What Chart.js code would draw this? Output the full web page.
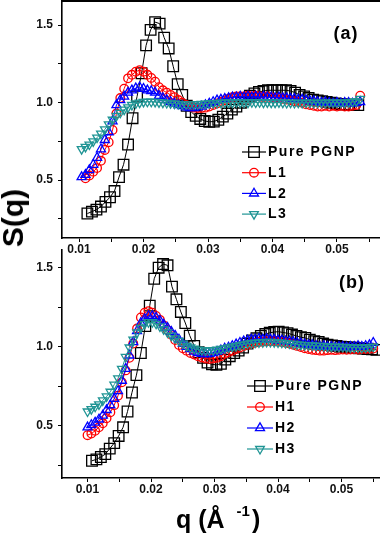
<!DOCTYPE html>
<html><head><meta charset="utf-8">
<script src="https://cdn.jsdelivr.net/npm/chart.js@4.4.0/dist/chart.umd.min.js"></script>
<style>
html,body{margin:0;padding:0;background:#fff;}
#wrap{position:relative;width:380px;height:533px;overflow:hidden;font-family:"Liberation Sans",Arial,sans-serif;color:#000;}
canvas{position:absolute;left:0;}
#cA{top:0;width:380px;height:262px;}
#cB{top:246px;width:380px;height:262px;}
#ytitle{position:absolute;left:13px;top:218px;transform:translate(-50%,-50%) rotate(-90deg);font-weight:bold;font-size:30px;white-space:nowrap;line-height:1;}
#xtitle{position:absolute;left:176px;top:507px;font-weight:bold;font-size:25px;white-space:nowrap;line-height:1;}
#xtitle .sup{font-size:15px;position:relative;top:-12px;margin-left:12px;margin-right:2px;}
.plab{position:absolute;font-weight:bold;font-size:18px;line-height:1;transform:translate(-50%,-50%);letter-spacing:1px;}
</style></head><body>
<div id="wrap">
<canvas id="cA" width="380" height="262"></canvas>
<canvas id="cB" width="380" height="262"></canvas>
<div id="ytitle">S(q)</div>
<div id="xtitle">q (Å<span class="sup">-1</span>)</div>
<div class="plab" style="left:346px;top:33px;">(a)</div>
<div class="plab" style="left:352px;top:282px;">(b)</div>
</div>
<script>
// ---------- DATA ----------
const xTickVals = [0.01,0.015,0.02,0.025,0.03,0.035,0.04,0.045,0.05,0.055];
const xTickLabels = ['0.01','','0.02','','0.03','','0.04','','0.05',''];
const yTickVals = [0.25,0.5,0.75,1.0,1.25,1.5];
const yTickLabels = ['','0.5','','1.0','','1.5'];

const seriesNamesA = ['Pure PGNP','L1','L2','L3'];
const seriesNamesB = ['Pure PGNP','H1','H2','H3'];

// panel (a)
const qPureA = [0.0113,0.0120,0.0127,0.0134,0.0141,0.0148,0.0155,0.0162,0.0169,0.0176,
0.0183,0.0190,0.0197,0.0204,0.0211,0.0218,0.0225,0.0232,0.0239,0.0246,
0.0253,0.0260,0.0267,0.0274,0.0281,0.0288,0.0295,0.0302,0.0309,0.0316,
0.0323,0.0330,0.0337,0.0344,0.0351,0.0358,0.0365,0.0372,0.0379,0.0386,
0.0393,0.0400,0.0407,0.0414,0.0421,0.0428,0.0435,0.0442,0.0449,0.0456,
0.0463,0.0470,0.0477,0.0484,0.0491,0.0498,0.0505,0.0512,0.0519,0.0526,
0.0533];
const sPureA = [0.285,0.297,0.310,0.330,0.360,0.390,0.430,0.520,0.600,0.730,
0.900,1.040,1.190,1.370,1.470,1.520,1.510,1.420,1.350,1.235,
1.120,1.050,0.980,0.940,0.915,0.895,0.882,0.877,0.878,0.890,
0.910,0.930,0.955,0.975,1.000,1.025,1.045,1.060,1.070,1.075,
1.080,1.080,1.080,1.080,1.080,1.075,1.065,1.050,1.040,1.030,
1.020,1.015,1.010,1.005,1.000,0.995,0.990,0.990,0.985,0.985,
0.985];
const qA = [0.0104,0.0110,0.0116,0.0122,0.0128,0.0134,0.0140,0.0146,0.0152,0.0158,
0.0164,0.0170,0.0176,0.0182,0.0188,0.0194,0.0200,0.0206,0.0212,0.0218,
0.0224,0.0230,0.0236,0.0242,0.0248,0.0254,0.0260,0.0266,0.0272,0.0278,
0.0284,0.0290,0.0296,0.0302,0.0308,0.0314,0.0320,0.0326,0.0332,0.0338,
0.0344,0.0350,0.0356,0.0362,0.0368,0.0374,0.0380,0.0386,0.0392,0.0398,
0.0404,0.0410,0.0416,0.0422,0.0428,0.0434,0.0440,0.0446,0.0452,0.0458,
0.0464,0.0470,0.0476,0.0482,0.0488,0.0494,0.0500,0.0506,0.0512,0.0518,
0.0524,0.0530,0.0536];
const sL1 = [null,0.512,0.530,0.555,0.578,0.625,0.695,0.745,0.824,0.930,
1.030,1.090,1.157,1.180,1.200,1.210,1.200,1.180,1.160,1.135,
1.100,1.080,1.065,1.050,1.035,1.017,1.000,0.985,0.975,0.968,
0.965,0.965,0.968,0.975,0.985,0.995,1.005,1.015,1.025,1.035,
1.040,1.040,1.040,1.045,1.040,1.045,1.040,1.035,1.040,1.035,
1.030,1.030,1.025,1.020,1.015,1.010,1.005,1.000,0.990,0.985,
0.980,0.975,0.975,0.980,0.975,0.980,0.975,0.980,0.975,0.975,
0.980,0.985,1.045];
const sL2 = [0.520,0.535,0.565,0.600,0.645,0.700,0.760,0.810,0.880,0.985,
1.017,1.040,1.065,1.080,1.093,1.100,1.090,1.080,1.075,1.065,
1.045,1.030,1.017,1.005,0.995,0.985,0.978,0.970,0.965,0.965,
0.970,0.975,0.985,0.995,1.005,1.015,1.020,1.025,
1.030,1.035,1.035,1.040,1.035,1.040,1.035,1.040,1.035,1.040,1.035,1.035,1.030,1.035,1.030,1.030,1.025,1.025,1.020,
1.020,
1.015,1.010,1.010,1.005,1.000,1.005,1.000,0.995,1.000,0.995,1.000,1.000,0.995,1.000,1.005];
const sL3 = [0.700,0.715,0.730,0.750,0.775,0.800,0.828,0.860,0.890,0.915,
0.935,0.955,0.970,0.985,0.995,1.000,1.005,1.006,1.006,1.005,
1.002,1.000,0.998,0.996,0.994,0.992,
0.990,0.990,0.990,0.990,0.990,0.992,0.993,0.995,0.997,0.998,
1.000,1.000,1.002,1.000,1.003,1.000,1.002,1.000,1.003,1.001,
1.003,1.000,1.002,1.000,1.000,1.002,1.000,0.998,1.000,0.998,
1.000,0.998,1.000,1.000,0.998,1.000,1.000,0.998,1.000,1.000,
1.000,1.000,1.000,1.002,1.005,1.010,1.025];

// panel (b)
const qPureB = [0.0107,0.0114,0.0121,0.0128,0.0135,0.0142,0.0149,0.0156,0.0163,0.0170,
0.0177,0.0184,0.0191,0.0198,0.0205,0.0212,0.0219,0.0226,0.0233,0.0240,
0.0247,0.0254,0.0261,0.0268,0.0275,0.0282,0.0289,0.0296,0.0303,0.0310,
0.0317,0.0324,0.0331,0.0338,0.0345,0.0352,0.0359,0.0366,0.0373,0.0380,
0.0387,0.0394,0.0401,0.0408,0.0415,0.0422,0.0429,0.0436,0.0443,0.0450,
0.0457,0.0464,0.0471,0.0478,0.0485,0.0492,0.0499,0.0506,0.0513,0.0520,
0.0527,0.0534,0.0541,0.0548,0.0555];
const sPureB = [0.278,0.287,0.302,0.320,0.355,0.390,0.435,0.490,0.590,0.710,
0.820,0.960,1.130,1.260,1.430,1.500,1.523,1.515,1.380,1.300,
1.220,1.150,1.070,1.005,0.965,0.930,0.900,0.888,0.885,0.892,
0.918,0.940,0.960,0.975,0.995,1.020,1.040,1.053,1.068,1.080,
1.088,1.093,1.095,1.090,1.085,1.077,1.068,1.060,1.055,1.045,
1.035,1.030,1.020,1.012,1.008,1.005,1.000,0.998,0.995,0.993,
0.990,0.988,0.985,0.983,0.980];
const qB = [0.0100,0.0106,0.0112,0.0118,0.0124,0.0130,0.0136,0.0142,0.0148,0.0154,
0.0160,0.0166,0.0172,0.0178,0.0184,0.0190,0.0196,0.0202,0.0208,0.0214,
0.0220,0.0226,0.0232,0.0238,0.0244,0.0250,0.0256,0.0262,0.0268,0.0274,
0.0280,0.0286,0.0292,0.0298,0.0304,0.0310,0.0316,0.0322,0.0328,0.0334,
0.0340,0.0346,0.0352,0.0358,0.0364,0.0370,0.0376,0.0382,0.0388,0.0394,
0.0400,0.0406,0.0412,0.0418,0.0424,0.0430,0.0436,0.0442,0.0448,0.0454,
0.0460,0.0466,0.0472,0.0478,0.0484,0.0490,0.0496,0.0502,0.0508,0.0514,
0.0520,0.0526,0.0532,0.0538,0.0544,0.0550];
const sH1 = [0.440,0.450,0.468,0.490,0.515,0.547,0.585,0.630,0.690,0.775,
0.850,0.930,1.020,1.115,1.185,1.215,1.225,1.215,1.195,1.170,
1.135,1.105,1.075,1.042,1.010,0.990,0.975,0.960,0.950,0.940,
0.932,0.925,0.922,0.925,0.930,0.940,0.955,0.965,0.975,0.985,
0.995,1.005,1.012,1.020,1.025,1.030,
1.032,1.035,1.035,1.035,1.032,1.030,1.025,
1.020,1.012,1.005,0.998,0.990,0.985,0.980,
0.978,0.975,0.975,0.978,0.980,0.978,0.980,0.982,0.980,0.982,0.985,0.982,0.985,0.985,0.987,0.988];
const sH2 = [0.490,0.505,0.520,0.540,0.565,0.600,0.630,0.670,0.720,0.785,
0.860,0.945,1.030,1.100,1.150,1.175,1.195,1.195,1.185,1.165,
1.140,1.120,1.095,1.070,1.045,1.020,1.000,0.985,0.970,0.960,
0.955,0.952,0.955,0.960,0.968,0.978,0.988,0.995,1.005,1.015,
1.025,1.035,
1.040,1.045,1.045,1.050,1.045,1.050,1.045,1.045,1.040,1.040,1.035,1.035,1.030,1.025,
1.020,
1.015,1.010,1.010,1.005,1.000,1.005,1.000,1.000,0.995,1.000,1.000,0.995,1.000,1.000,1.005,1.000,1.005,1.010,1.025];
const sH3 = [0.590,0.605,0.620,0.635,0.660,0.685,0.715,0.760,0.800,0.860,
0.935,0.995,1.045,1.090,1.120,1.145,1.155,1.155,1.145,1.128,
1.110,1.090,1.070,1.053,1.036,1.020,1.005,0.995,0.988,0.982,
0.978,0.976,0.976,0.978,0.982,0.986,0.990,0.995,1.000,1.005,
1.010,1.015,1.020,
1.022,1.025,1.027,1.028,1.030,1.030,1.028,1.027,1.025,1.023,1.020,
1.018,1.015,1.013,1.010,1.010,1.008,1.005,1.005,1.003,1.000,1.000,1.000,0.998,0.998,0.997,0.995,0.995,0.995,0.993,0.995,0.997,1.000];

// ---------- STYLE ----------
const FONT = '"Liberation Sans", Arial, sans-serif';
const COLORS = ['#000000','#ff0000','#0000ff','#1f9494'];
const STYLES = [
  {pointStyle:'rect', r:7.5, rot:0},
  {pointStyle:'circle', r:4.3, rot:0},
  {pointStyle:'triangle', r:5.2, rot:0},
  {pointStyle:'triangle', r:5.0, rot:180}
];

function pts(xs, ys){ const out=[]; for(let i=0;i<xs.length;i++){ if(ys[i]!==null) out.push({x:xs[i],y:ys[i]}); } return out; }

function mkDatasets(names, xsList, ysList){
  return names.map((n,i)=>({
    label:n, data:pts(xsList[i], ysList[i]),
    borderColor:COLORS[i], borderWidth:1,
    pointStyle:STYLES[i].pointStyle, pointRadius:STYLES[i].r, pointRotation:STYLES[i].rot,
    pointBorderColor:COLORS[i], pointBackgroundColor:'rgba(0,0,0,0)', pointBorderWidth:1.3,
    fill:false, tension:0, order:3-i
  }));
}

function drawMarker(ctx, st, x, y){
  const r = st.r; ctx.beginPath();
  if(st.pointStyle==='rect'){ const s=Math.SQRT1_2*r; ctx.rect(x-s,y-s,2*s,2*s); }
  else if(st.pointStyle==='circle'){ ctx.arc(x,y,r,0,Math.PI*2); }
  else { let rad = st.rot*Math.PI/180; for(let k=0;k<3;k++){ const px=x+Math.sin(rad)*r, py=y-Math.cos(rad)*r; if(k===0) ctx.moveTo(px,py); else ctx.lineTo(px,py); rad+=2*Math.PI/3; } ctx.closePath(); }
  ctx.stroke();
}

const legendPlugin = {
  id:'inlineLegend',
  afterDraw(chart){
    const o = chart.options.plugins.inlineLegend; if(!o) return;
    const ctx = chart.ctx; ctx.save();
    chart.data.datasets.forEach((d,i)=>{
      const y = o.y0 + i*o.dy;
      ctx.strokeStyle = d.borderColor; ctx.lineWidth = 1.2;
      ctx.beginPath(); ctx.moveTo(o.x0,y); ctx.lineTo(o.x1,y); ctx.stroke();
      ctx.lineWidth = 1.3;
      drawMarker(ctx, STYLES[i], (o.x0+o.x1)/2, y);
      ctx.fillStyle = '#000'; ctx.font = 'bold 14px ' + FONT;
      ctx.textBaseline = 'middle'; ctx.textAlign = 'left';
      try { ctx.letterSpacing = '1.5px'; } catch(e) {}
      ctx.fillText(d.label, o.tx, y+0.5);
    });
    ctx.restore();
  }
};

const frameTopPlugin = {
  id:'frameTop',
  afterDraw(chart){
    const o = chart.options.plugins.frameTop; if(!o || !o.show) return;
    const a = chart.chartArea, ctx = chart.ctx; ctx.save();
    ctx.strokeStyle='#000'; ctx.lineWidth=2;
    ctx.beginPath(); ctx.moveTo(a.left-1,a.top); ctx.lineTo(a.right,a.top); ctx.stroke();
    ctx.restore();
  }
};

function mkOptions(xmin,xmax,ymin,ymax,padTop,xAxisH,legend,frameTop){
  const tickFont = {family:FONT, size:12, weight:'bold'};
  return {
    responsive:false, animation:false, events:[],
    layout:{autoPadding:false, padding:{top:padTop,left:0,right:0,bottom:0}},
    plugins:{legend:{display:false}, tooltip:{enabled:false}, inlineLegend:legend, frameTop:{show:frameTop}},
    scales:{
      x:{type:'linear', min:xmin, max:xmax,
        afterBuildTicks:s=>{ s.ticks = xTickVals.map(v=>({value:v})); },
        afterFit:s=>{ s.height = xAxisH; s.paddingLeft = 0; s.paddingRight = 0; },
        grid:{drawOnChartArea:false, drawTicks:true, tickLength:4, tickColor:'#000', tickWidth:1},
        border:{display:true, color:'#000', width:1.6},
        ticks:{autoSkip:false, maxRotation:0, minRotation:0, padding:0, color:'#111', font:tickFont,
          callback:(v,i)=>xTickLabels[i]}
      },
      y:{type:'linear', min:ymin, max:ymax,
        afterBuildTicks:s=>{ s.ticks = yTickVals.map(v=>({value:v})); },
        afterFit:s=>{ s.width = 62; s.paddingTop = 0; s.paddingBottom = 0; },
        grid:{drawOnChartArea:false, drawTicks:true, tickLength:4, tickColor:'#000', tickWidth:1},
        border:{display:true, color:'#000', width:1.6},
        ticks:{autoSkip:false, padding:5, color:'#111', font:tickFont,
          callback:(v,i)=>yTickLabels[i]}
      }
    }
  };
}

new Chart(document.getElementById('cA'), {
  type:'line',
  data:{datasets:mkDatasets(seriesNamesA,[qPureA,qA,qA,qA],[sPureA,sL1,sL2,sL3])},
  options:mkOptions(0.00736,0.05667,0.127,1.656,1,24,{x0:242,x1:266,tx:268,y0:152,dy:20.7},true),
  plugins:[legendPlugin,frameTopPlugin]
});
new Chart(document.getElementById('cB'), {
  type:'line',
  data:{datasets:mkDatasets(seriesNamesB,[qPureB,qB,qB,qB],[sPureB,sH1,sH2,sH3])},
  options:mkOptions(0.00598,0.05606,0.169,1.612,4,30,{x0:247,x1:273,tx:275,y0:140,dy:21},false),
  plugins:[legendPlugin,frameTopPlugin]
});
</script>
</body></html>
